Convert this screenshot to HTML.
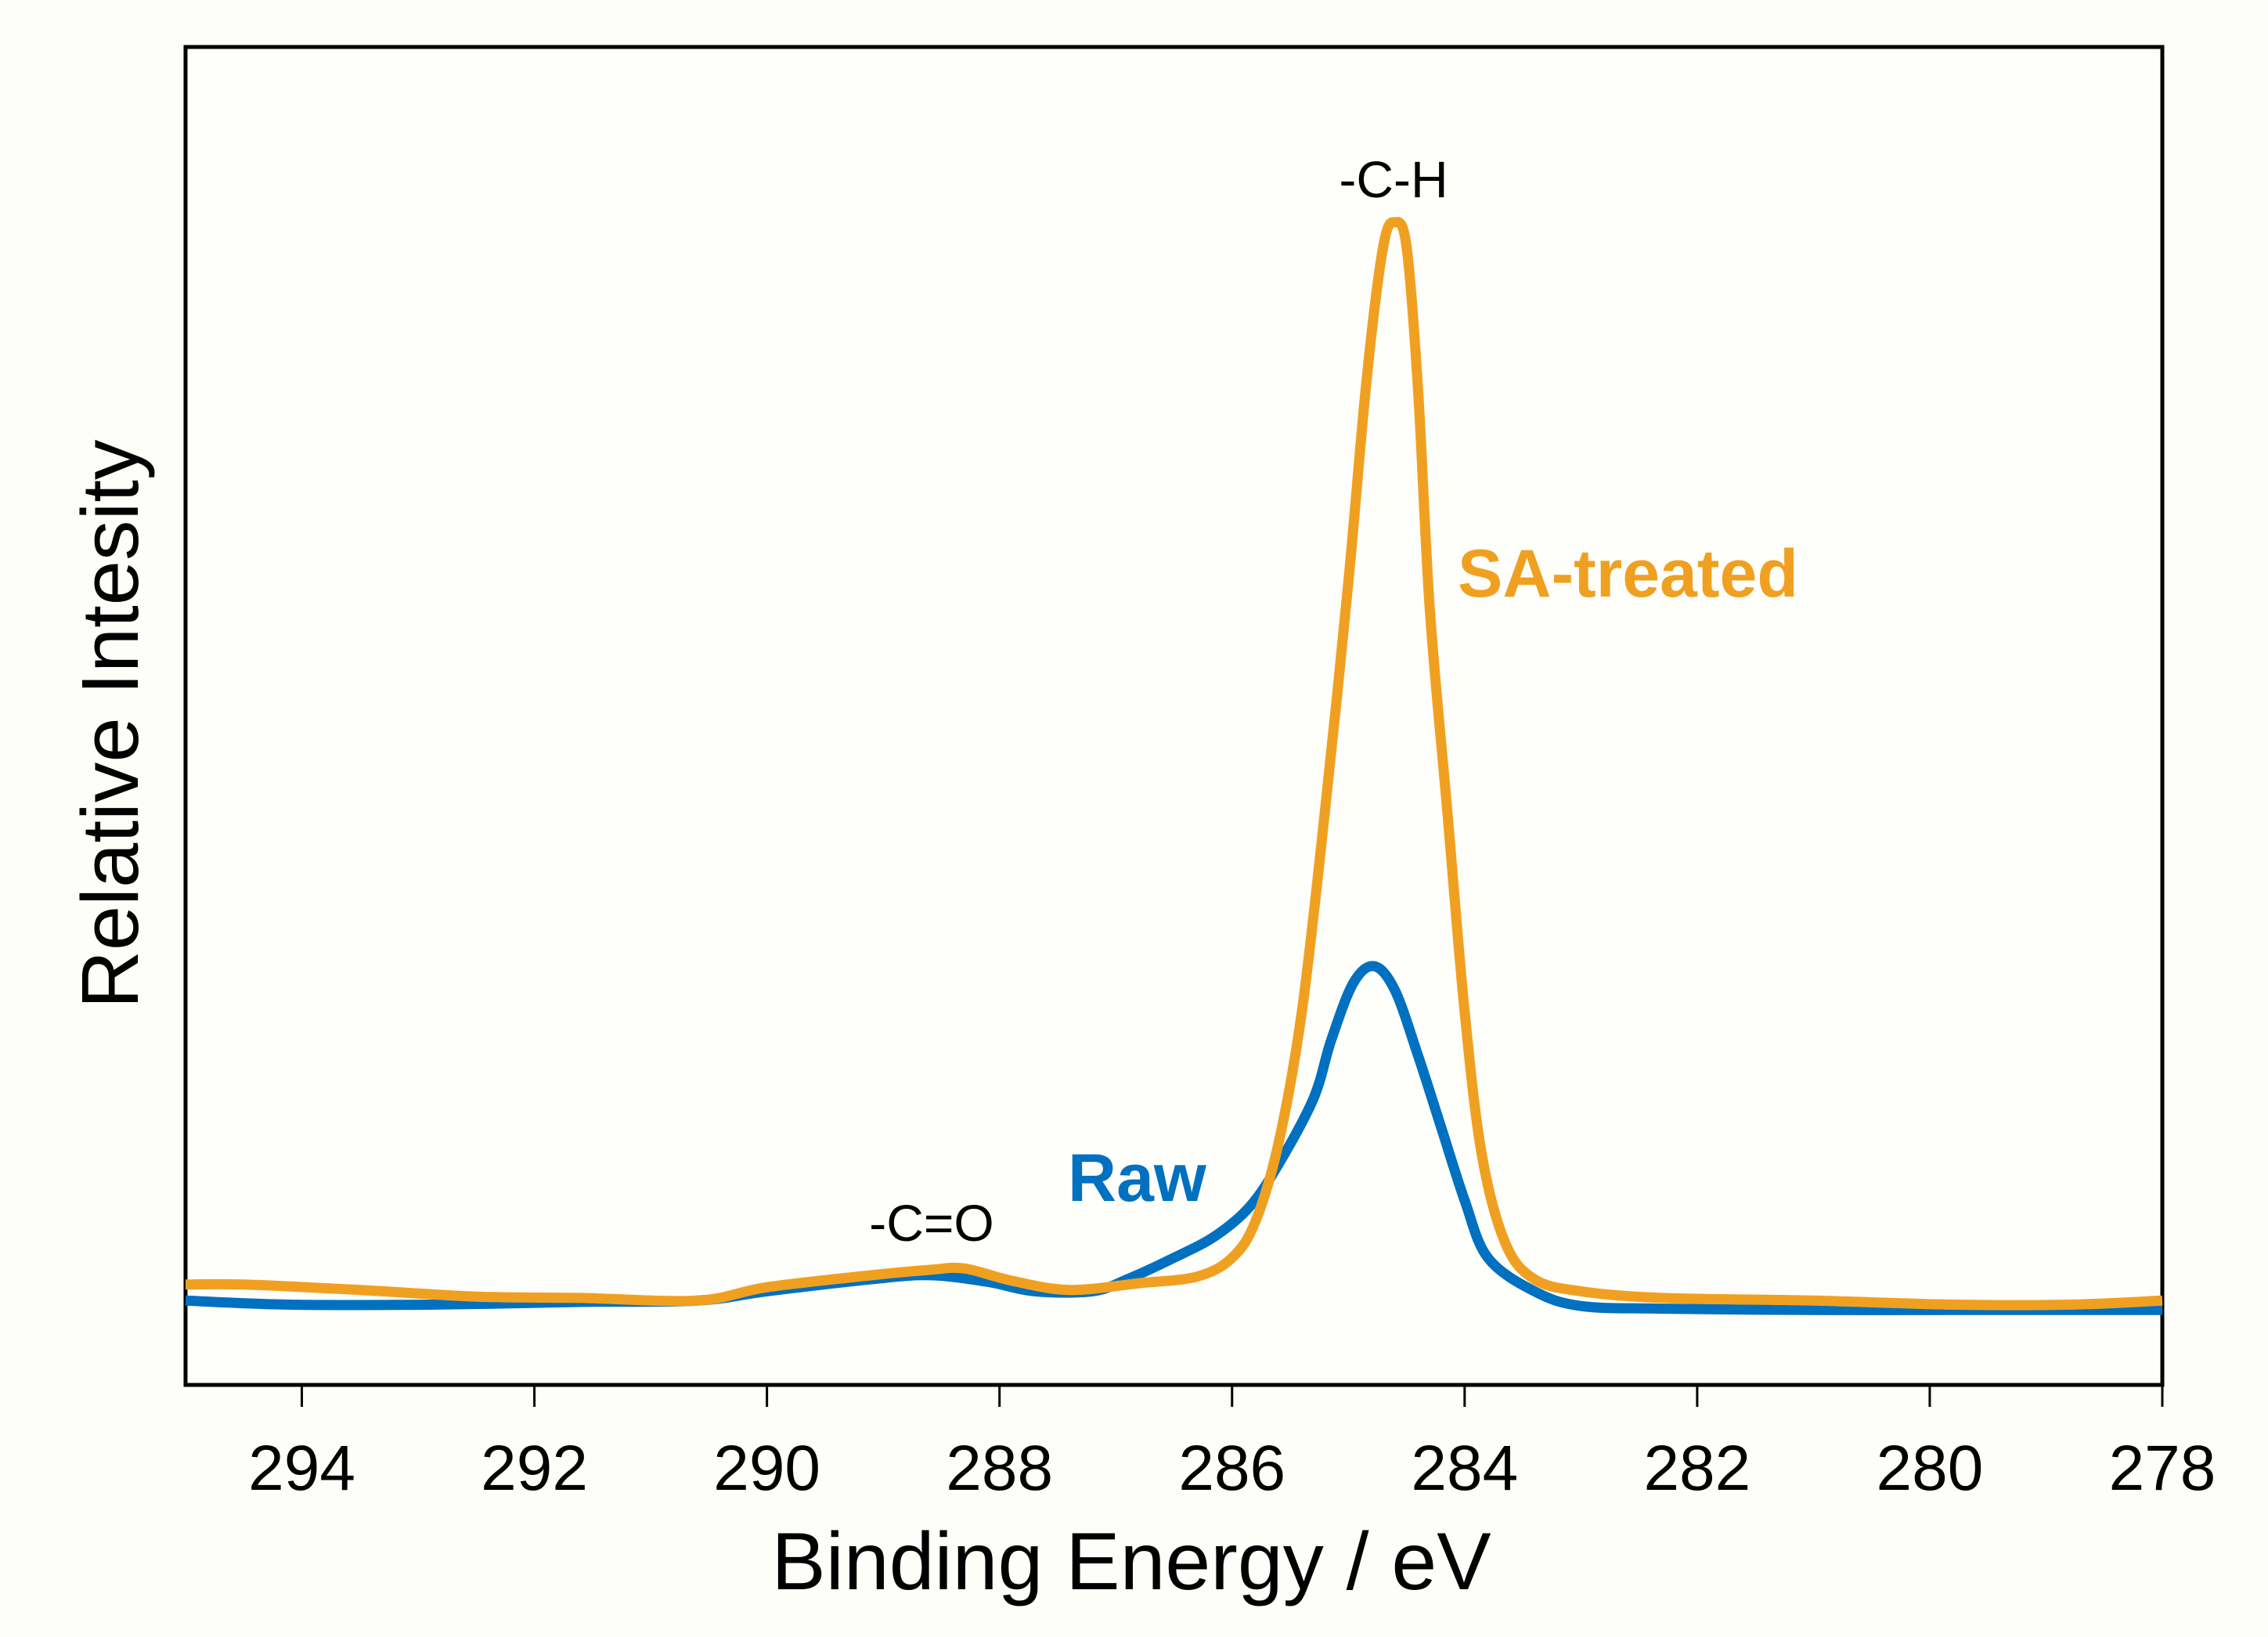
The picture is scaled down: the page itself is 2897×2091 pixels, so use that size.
<!DOCTYPE html>
<html><head><meta charset="utf-8"><style>
html,body{margin:0;padding:0;background:#fdfdf9;}
svg{display:block;font-family:"Liberation Sans",Arial,sans-serif;}
</style></head><body>
<svg id="chart" width="2897" height="2091" viewBox="0 0 2897 2091">
<rect x="0" y="0" width="2897" height="2091" fill="#fdfdf9"/>
<rect x="237" y="60" width="2525" height="1709" fill="#fefefb" stroke="#000" stroke-width="5"/>
<g id="ticks"></g>
<g id="series"></g>
<text x="1780" y="252" font-size="66" text-anchor="middle" fill="#000">-C-H</text>
<text x="1190" y="1585" font-size="66" text-anchor="middle" fill="#000">-C=O</text>
<text x="1862" y="762" font-size="86" font-weight="bold" fill="#f0a020">SA-treated</text>
<text x="1364" y="1534" font-size="86" font-weight="bold" fill="#0070c0">Raw</text>
<text x="1445" y="2030" font-size="104" text-anchor="middle" fill="#000">Binding Energy / eV</text>
<text x="0" y="0" font-size="103" text-anchor="middle" fill="#000" transform="translate(176,925) rotate(-90)">Relative Intesity</text>
</svg>
<script>
const xTicks = [294, 292, 290, 288, 286, 284, 282, 280, 278];
const saX = [295,294.5,293.5,292.5,291.6,290.6,290,289.1,288.6,288.3,287.9,287.4,286.8,286.3,286.0,285.8,285.6,285.4,285.2,285.0,284.84,284.7,284.6,284.5,284.4,284.3,284.15,284.0,283.85,283.65,283.4,283.0,282.3,281.0,279.8,278.8,278];
const saY = [7.5,7.5,7.1,6.6,6.5,6.3,7.3,8.2,8.6,8.7,7.8,7.1,7.6,8.1,9.5,12.2,18.1,27.9,43,60,75.4,85.1,86.9,85.1,74.3,58,43,27.9,17.1,10.6,7.9,7.0,6.5,6.3,6.0,6.0,6.3];
const rawX = [295,294.1,292.9,291.6,290.6,290,289.1,288.6,288.1,287.7,287.2,286.9,286.5,286.15,285.85,285.6,285.3,285.15,284.96,284.78,284.6,284.4,284.2,284.0,283.8,283.4,283.0,282.3,281.0,279.8,278];
const rawY = [6.3,6.0,6.0,6.2,6.3,7.0,7.9,8.2,7.7,7.0,7.0,7.9,9.5,11.1,13.3,16.5,21.4,25.7,30,31.3,29.5,24.6,19.2,13.8,9.5,7.0,5.9,5.7,5.6,5.6,5.6];

const NS = "http://www.w3.org/2000/svg";
const X0 = 237, X1 = 2762, Y0 = 1769, Y1 = 60;
function xs(v){ return X0 + (295 - v) / 17 * (X1 - X0); }
function ys(v){ return Y0 - v / 100 * (Y0 - Y1); }

const tg = document.getElementById('ticks');
xTicks.forEach(function(t){
  const l = document.createElementNS(NS,'line');
  l.setAttribute('x1', xs(t)); l.setAttribute('x2', xs(t));
  l.setAttribute('y1', Y0); l.setAttribute('y2', Y0 + 28);
  l.setAttribute('stroke', '#000'); l.setAttribute('stroke-width', '3');
  
  
  tg.appendChild(l);
  const tx = document.createElementNS(NS,'text');
  tx.setAttribute('x', xs(t)); tx.setAttribute('y', 1903);
  tx.setAttribute('font-size', '82'); tx.setAttribute('text-anchor', 'middle');
  tx.textContent = t;
  
  
  tg.appendChild(tx);
});

function drawLine(xArr, yArr, color, name){
  const pts = xArr.map(function(v,i){ return [xs(v), ys(yArr[i])]; });
  let d = 'M' + pts[0][0].toFixed(1) + ',' + pts[0][1].toFixed(1);
  for (let i = 0; i < pts.length - 1; i++) {
    const p0 = pts[Math.max(0,i-1)], p1 = pts[i], p2 = pts[i+1], p3 = pts[Math.min(pts.length-1,i+2)];
    const c1x = p1[0] + (p2[0]-p0[0])/6, c1y = p1[1] + (p2[1]-p0[1])/6;
    const c2x = p2[0] - (p3[0]-p1[0])/6, c2y = p2[1] - (p3[1]-p1[1])/6;
    d += ' C' + c1x.toFixed(1) + ',' + c1y.toFixed(1) + ' ' + c2x.toFixed(1) + ',' + c2y.toFixed(1) + ' ' + p2[0].toFixed(1) + ',' + p2[1].toFixed(1);
  }
  const p = document.createElementNS(NS,'path');
  p.setAttribute('d', d);
  p.setAttribute('fill', 'none'); p.setAttribute('stroke', color);
  p.setAttribute('stroke-width', '13'); p.setAttribute('stroke-linejoin', 'round');
  
  
  document.getElementById('series').appendChild(p);
}
drawLine(rawX, rawY, '#0070c0', 'raw-line');
drawLine(saX, saY, '#f0a020', 'sa-treated-line');
</script>
</body></html>
